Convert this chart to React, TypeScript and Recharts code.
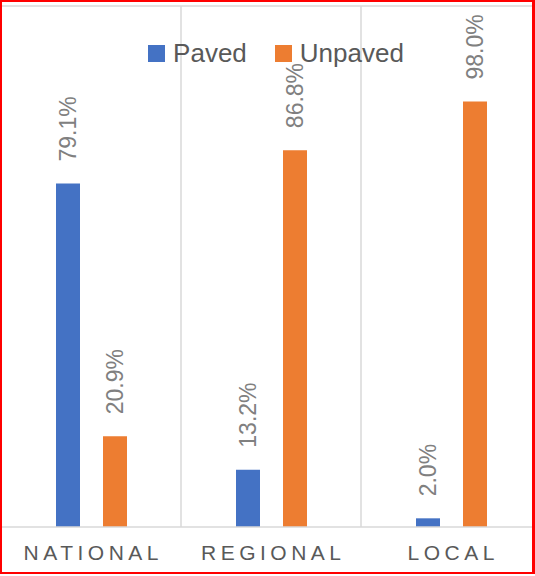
import { BarChart, Bar, XAxis, YAxis, CartesianGrid, Legend, LabelList } from "recharts";

const categories = ["NATIONAL", "REGIONAL", "LOCAL"];
const paved = [79.1, 13.2, 2.0];
const unpaved = [20.9, 86.8, 98.0];

const data = categories.map((name, i) => ({ name, Paved: paved[i], Unpaved: unpaved[i] }));

const CHART_W = 540;
const CHART_H = 576;
const TOP = 6;
const AXIS_H = 49;
const FONT = "'Liberation Sans', Arial, sans-serif";

function CategoryTick({ x, y, payload }: any) {
    const spacing = 4.5;
    return (
        <text
            x={x + spacing / 2}
            y={y + 25}
            textAnchor="middle"
            fill="#595959"
            fontSize={21}
            fontFamily={FONT}
            letterSpacing={spacing}
        >
            {payload.value}
        </text>
    );
}

function RotatedLabel({ x, y, width, value }: any) {
    const cx = x + width / 2;
    const cy = y - 22;
    return (
        <text
            x={cx}
            y={cy}
            transform={`rotate(-90, ${cx}, ${cy})`}
            textAnchor="start"
            dominantBaseline="central"
            fill="#808080"
            fontSize={23}
            fontFamily={FONT}
        >
            {`${Number(value).toFixed(1)}%`}
        </text>
    );
}

function ChartLegend({ payload }: any) {
    return (
        <div style={{ display: "flex", justifyContent: "center", gap: 28, fontFamily: FONT }}>
            {(payload || []).map((entry: any) => (
                <div key={entry.value} style={{ display: "flex", alignItems: "center", gap: 8 }}>
                    <span style={{ width: 17, height: 17, background: entry.color, display: "inline-block" }} />
                    <span style={{ fontSize: 26, color: "#595959" }}>{entry.value}</span>
                </div>
            ))}
        </div>
    );
}

export default function App() {
    return (
        <div style={{ position: "absolute", left: 0, top: 0, width: 535, height: 576, overflow: "hidden", background: "#fff" }}>
            <div style={{ position: "absolute", left: 1, top: 0 }}>
                <BarChart
                    width={CHART_W}
                    height={CHART_H}
                    data={data}
                    margin={{ top: TOP, right: 0, bottom: 0, left: 0 }}
                    barSize={24}
                    barGap={23}
                >
                    <CartesianGrid
                        stroke="#d9d9d9"
                        strokeWidth={1.5}
                        verticalPoints={[CHART_W / 3, (2 * CHART_W) / 3]}
                        horizontalPoints={[TOP]}
                    />
                    <XAxis
                        dataKey="name"
                        height={AXIS_H}
                        tickLine={false}
                        axisLine={{ stroke: "#d9d9d9", strokeWidth: 1.5 }}
                        tick={<CategoryTick />}
                        interval={0}
                    />
                    <YAxis hide domain={[0, 120]} />
                    <Legend
                        verticalAlign="middle"
                        align="center"
                        content={<ChartLegend />}
                        wrapperStyle={{ top: 38, left: 0, width: 550 }}
                    />
                    <Bar dataKey="Paved" fill="#4472C4" isAnimationActive={false}>
                        <LabelList dataKey="Paved" content={<RotatedLabel />} />
                    </Bar>
                    <Bar dataKey="Unpaved" fill="#ED7D31" isAnimationActive={false}>
                        <LabelList dataKey="Unpaved" content={<RotatedLabel />} />
                    </Bar>
                </BarChart>
            </div>
            <div
                style={{
                    position: "absolute",
                    left: 0,
                    top: 0,
                    width: 535,
                    height: 574,
                    boxSizing: "border-box",
                    border: "2px solid #ff0000",
                    borderRightWidth: 3,
                    pointerEvents: "none",
                }}
            />
        </div>
    );
}
